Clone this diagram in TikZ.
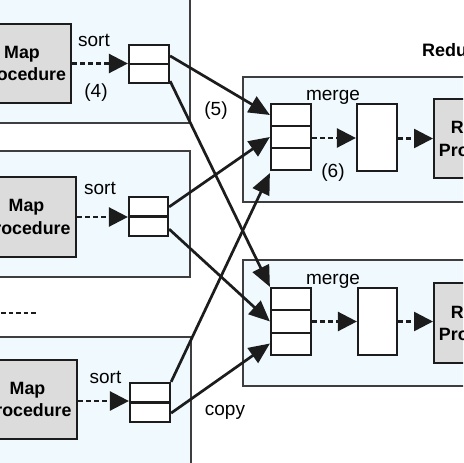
\documentclass[tikz,border=0pt]{standalone}
\usepackage{fontspec}
\setmainfont{Liberation Sans}
\usetikzlibrary{arrows.meta,calc}
\definecolor{panelfill}{RGB}{240,250,254}
\definecolor{boxgray}{RGB}{220,220,220}
\definecolor{edge}{RGB}{28,28,28}
\begin{document}
\begin{tikzpicture}[x=1pt,y=-1pt,
  panel/.style={draw=edge!85, line width=1.3pt, fill=panelfill, inner sep=0pt},
  procbox/.style={draw=edge, line width=2pt, fill=boxgray, font=\fontsize{17.8}{22.5}\selectfont\bfseries, align=center, inner sep=0pt},
  slotbox/.style={draw=edge, line width=2.2pt, fill=white, inner sep=0pt},
  slotline/.style={draw=edge, line width=2.2pt},
  dasharrow/.style={draw=edge, line width=2.5pt, dash pattern=on 5pt off 3pt, -{Triangle[length=19pt,width=19pt]}},
  link/.style={draw=edge, line width=2.7pt, -{Triangle[length=21pt,width=18pt]}},
  lbl/.style={font=\fontsize{19}{22}\selectfont, anchor=base, inner sep=0pt},
  ellip/.style={draw=edge, line width=2.5pt, dash pattern=on 4.5pt off 3pt},
]
\useasboundingbox (0,0) rectangle (463,463);
\clip (0,0) rectangle (463,463);
\fill[white] (0,0) rectangle (463,463);

% map-side panels
\node[panel, minimum width=195pt, minimum height=128pt] (P1) at (92.5,59) {};
\node[panel, minimum width=195pt, minimum height=126pt] (P2) at (92.5,214) {};
\node[panel, minimum width=196pt, minimum height=138pt] (P3) at (93,406) {};
% reduce-side panels
\node[panel, minimum width=232pt, minimum height=125pt] (R1) at (359,139.5) {};
\node[panel, minimum width=232pt, minimum height=126pt] (R2) at (359,323) {};

% map procedures
\node[procbox, minimum width=98pt, minimum height=79pt] (M1) at (22,63.5) {Map\\Procedure};
\node[procbox, minimum width=99pt, minimum height=80pt] (M2) at (26.5,217) {Map\\Procedure};
\node[procbox, minimum width=99pt, minimum height=79pt] (M3) at (27.5,399.5) {Map\\Procedure};

% map output buffers
\node[slotbox, minimum width=40pt, minimum height=38pt] (B1) at (149,64) {};
\node[slotbox, minimum width=39pt, minimum height=39pt] (B2) at (148.5,216.5) {};
\node[slotbox, minimum width=40pt, minimum height=39pt] (B3) at (150,402.5) {};
\foreach \b in {B1,B2,B3} \draw[slotline] (\b.west) -- (\b.east);

% merge buffers
\node[slotbox, minimum width=40pt, minimum height=66pt] (G1) at (291,137) {};
\node[slotbox, minimum width=40pt, minimum height=67pt] (G2) at (291,321.5) {};
\foreach \g in {G1,G2} {
  \draw[slotline] ($(\g.north west)!1/3!(\g.south west)$) -- ($(\g.north east)!1/3!(\g.south east)$);
  \draw[slotline] ($(\g.north west)!2/3!(\g.south west)$) -- ($(\g.north east)!2/3!(\g.south east)$);
}

% merged output
\node[slotbox, minimum width=40pt, minimum height=67pt] (C1) at (377,137.5) {};
\node[slotbox, minimum width=39pt, minimum height=67pt] (C2) at (377.5,321.5) {};

% reduce procedures
\node[procbox, minimum width=98pt, minimum height=79pt] (D1) at (483,138.5) {Reduce\\Procedure};
\node[procbox, minimum width=98pt, minimum height=80pt] (D2) at (483,323) {Reduce\\Procedure};

% dashed arrows
\draw[dasharrow] (M1.east) -- (M1.east -| B1.west);
\draw[dasharrow] (M2.east) -- (M2.east -| B2.west);
\draw[dasharrow] ([yshift=-1.5pt]M3.east) -- ([yshift=-1.5pt]M3.east -| B3.west);
\draw[dasharrow] ([yshift=-1pt]G1.east) -- ([yshift=-1pt]G1.east -| C1.west);
\draw[dasharrow] ([yshift=-1pt]C1.east) -- ([yshift=-1pt]C1.east -| D1.west);
\draw[dasharrow] (G2.east) -- (G2.east -| C2.west);
\draw[dasharrow] (C2.east) -- (C2.east -| D2.west);

% shuffle links
\draw[link] ([yshift=-12pt]B1.north east) -- ([yshift=22pt]G1.west);
\draw[link] ([yshift=3pt]B1.south east) -- (G2.north west);
\draw[link] ([yshift=-11pt]B2.north east) -- (G1.west);
\draw[link] ([yshift=8pt]B2.south east) -- (G2.west);
\draw[link] (B3.north east) -- ([yshift=-2pt]G1.south west);
\draw[link] ([yshift=10pt]B3.south east) -- ([yshift=-22pt]G2.west);

% ellipsis between mappers
\coordinate (elA) at (1,313);
\coordinate (elB) at (38,313);
\draw[ellip] (elA) -- (elB);

% labels
\node[lbl] (s1) at (94,46.5) {sort};
\node[lbl] (s2) at (100,194) {sort};
\node[lbl] (s3) at (105.5,383) {sort};
\node[lbl] (n4) at (96,97) {(4)};
\node[lbl] (n5) at (216,115) {(5)};
\node[lbl] (n6) at (333,177) {(6)};
\node[lbl] (mg1) at (333,100) {merge};
\node[lbl] (mg2) at (333,284) {merge};
\node[lbl] (cp) at (225,415) {copy};
\node[lbl, anchor=base west, font=\fontsize{18}{22}\selectfont\bfseries] (rt) at (422,56) {Reduce};
\end{tikzpicture}
\end{document}
